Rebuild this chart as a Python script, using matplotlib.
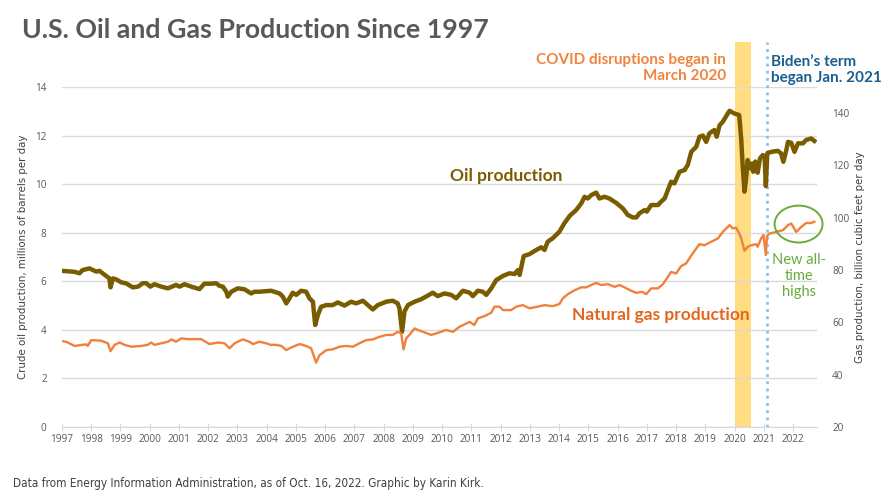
import os

import matplotlib
matplotlib.use('Agg')
import matplotlib.pyplot as plt
import matplotlib.font_manager as fm
from matplotlib.patches import Ellipse, Rectangle
import matplotlib.transforms as mtransforms

######################################################################
# Data (decimal year, value)
oil_year = [1997.0, 1997.43, 1997.6, 1997.7, 1997.94, 1998.17, 1998.28, 1998.51, 1998.62, 1998.66,
            1998.74, 1998.85, 1999.02, 1999.2, 1999.42, 1999.6, 1999.76, 1999.88, 2000.02, 2000.16,
            2000.39, 2000.62, 2000.9, 2001.02, 2001.19, 2001.42, 2001.7, 2001.87, 2002.1, 2002.27,
            2002.39, 2002.5, 2002.62, 2002.67, 2002.79, 2003.01, 2003.24, 2003.47, 2003.58, 2003.75,
            2004.15, 2004.44, 2004.55, 2004.67, 2004.78, 2004.89, 2005.01, 2005.18, 2005.35, 2005.46,
            2005.58, 2005.66, 2005.75, 2005.86, 2006.04, 2006.26, 2006.43, 2006.66, 2006.89, 2007.06,
            2007.29, 2007.46, 2007.63, 2007.8, 2008.09, 2008.31, 2008.48, 2008.54, 2008.63, 2008.71,
            2008.83, 2009.06, 2009.28, 2009.45, 2009.68, 2009.85, 2010.08, 2010.31, 2010.48, 2010.71,
            2010.94, 2011.05, 2011.22, 2011.39, 2011.51, 2011.68, 2011.85, 2012.08, 2012.3, 2012.48,
            2012.59, 2012.65, 2012.79, 2012.99, 2013.22, 2013.39, 2013.5, 2013.61, 2013.78, 2014.01,
            2014.18, 2014.36, 2014.58, 2014.76, 2014.87, 2014.98, 2015.1, 2015.27, 2015.38, 2015.55,
            2015.72, 2015.95, 2016.18, 2016.35, 2016.52, 2016.64, 2016.75, 2016.92, 2017.0, 2017.15,
            2017.38, 2017.49, 2017.61, 2017.72, 2017.83, 2017.94, 2018.12, 2018.29, 2018.4, 2018.52,
            2018.69, 2018.8, 2018.92, 2019.03, 2019.14, 2019.31, 2019.39, 2019.49, 2019.6, 2019.77,
            2019.83, 2019.99, 2020.1, 2020.16, 2020.23, 2020.28, 2020.34, 2020.39, 2020.45, 2020.53,
            2020.6, 2020.64, 2020.71, 2020.79, 2020.87, 2020.97, 2021.03, 2021.07, 2021.12, 2021.26,
            2021.48, 2021.59, 2021.67, 2021.77, 2021.83, 2021.94, 2022.05, 2022.17, 2022.34, 2022.45,
            2022.62, 2022.73]
oil_mbd = [6.43, 6.39, 6.33, 6.46, 6.53, 6.40, 6.43, 6.22, 6.12, 5.75,
           6.12, 6.08, 5.96, 5.91, 5.75, 5.78, 5.92, 5.92, 5.78, 5.88,
           5.78, 5.71, 5.85, 5.78, 5.88, 5.78, 5.68, 5.90, 5.90, 5.92,
           5.81, 5.78, 5.57, 5.37, 5.57, 5.71, 5.67, 5.50, 5.57, 5.57,
           5.61, 5.50, 5.37, 5.09, 5.30, 5.53, 5.44, 5.61, 5.57, 5.30,
           5.16, 4.20, 4.61, 4.95, 5.02, 5.02, 5.13, 5.00, 5.16, 5.09,
           5.20, 5.02, 4.84, 5.02, 5.16, 5.20, 5.09, 4.89, 3.92, 4.75,
           5.02, 5.16, 5.26, 5.37, 5.53, 5.39, 5.50, 5.44, 5.30, 5.61,
           5.53, 5.39, 5.61, 5.57, 5.44, 5.71, 6.05, 6.22, 6.33, 6.30,
           6.46, 6.26, 7.04, 7.12, 7.29, 7.40, 7.29, 7.63, 7.77, 8.04,
           8.39, 8.69, 8.93, 9.21, 9.48, 9.41, 9.55, 9.65, 9.41, 9.48,
           9.41, 9.23, 9.00, 8.73, 8.63, 8.63, 8.80, 8.93, 8.87, 9.14,
           9.14, 9.28, 9.41, 9.76, 10.10, 10.03, 10.51, 10.58, 10.79, 11.33,
           11.54, 11.95, 12.00, 11.74, 12.09, 12.23, 11.95, 12.43, 12.57, 12.91,
           13.02, 12.91, 12.87, 12.84, 11.82, 10.72, 9.69, 10.17, 10.99, 10.65,
           10.85, 10.51, 10.93, 10.47, 11.06, 11.20, 11.06, 9.92, 11.27, 11.33,
           11.37, 11.27, 10.92, 11.40, 11.74, 11.70, 11.33, 11.68, 11.68, 11.82,
           11.88, 11.78]

gas_year = [1997.0, 1997.14, 1997.43, 1997.83, 1997.88, 1998.0, 1998.34, 1998.57, 1998.66, 1998.8,
            1998.97, 1999.14, 1999.37, 1999.71, 1999.93, 2000.05, 2000.16, 2000.39, 2000.62, 2000.75,
            2000.9, 2001.08, 2001.3, 2001.53, 2001.76, 2002.04, 2002.33, 2002.56, 2002.73, 2002.9,
            2003.18, 2003.41, 2003.53, 2003.75, 2003.98, 2004.15, 2004.32, 2004.5, 2004.67, 2004.84,
            2005.12, 2005.35, 2005.52, 2005.69, 2005.81, 2006.04, 2006.26, 2006.49, 2006.72, 2006.95,
            2007.17, 2007.4, 2007.63, 2007.86, 2008.09, 2008.31, 2008.48, 2008.6, 2008.68, 2008.77,
            2008.88, 2009.06, 2009.17, 2009.34, 2009.63, 2009.8, 2010.14, 2010.37, 2010.59, 2010.94,
            2011.1, 2011.22, 2011.45, 2011.68, 2011.79, 2011.96, 2012.08, 2012.36, 2012.53, 2012.76,
            2012.99, 2013.27, 2013.5, 2013.78, 2014.01, 2014.13, 2014.3, 2014.53, 2014.76, 2014.93,
            2015.1, 2015.27, 2015.44, 2015.67, 2015.9, 2016.07, 2016.3, 2016.52, 2016.64, 2016.84,
            2016.98, 2017.15, 2017.38, 2017.55, 2017.72, 2017.83, 2018.0, 2018.17, 2018.34, 2018.57,
            2018.8, 2018.97, 2019.2, 2019.43, 2019.6, 2019.83, 2019.94, 2020.05, 2020.16, 2020.23,
            2020.34, 2020.45, 2020.57, 2020.74, 2020.79, 2020.91, 2020.99, 2021.07, 2021.11, 2021.2,
            2021.43, 2021.66, 2021.83, 2021.94, 2022.11, 2022.28, 2022.45, 2022.62, 2022.73]
gas_bcfd = [52.8, 52.6, 51.0, 51.6, 51.0, 53.2, 53.0, 52.0, 49.0, 51.4,
            52.3, 51.4, 50.7, 51.0, 51.4, 52.3, 51.4, 52.0, 52.6, 53.5,
            52.6, 53.9, 53.6, 53.6, 53.6, 51.7, 52.3, 52.0, 50.1, 52.0,
            53.5, 52.6, 51.7, 52.6, 52.0, 51.4, 51.4, 51.0, 49.4, 50.4,
            51.7, 51.0, 50.1, 44.6, 47.5, 49.4, 49.7, 50.7, 51.0, 50.7,
            52.0, 53.2, 53.5, 54.5, 55.2, 55.2, 56.4, 55.8, 49.7, 53.9,
            55.2, 57.7, 57.1, 56.4, 55.2, 55.8, 57.1, 56.4, 58.3, 60.2,
            59.0, 61.5, 62.4, 63.7, 66.0, 66.0, 64.7, 64.7, 66.0, 66.6,
            65.4, 66.0, 66.6, 66.2, 67.0, 69.2, 70.8, 72.3, 73.4, 73.4,
            74.3, 75.1, 74.3, 74.6, 73.6, 74.3, 73.0, 71.8, 71.3, 71.7,
            70.8, 73.0, 73.0, 74.6, 77.4, 79.3, 78.7, 81.5, 82.5, 86.4,
            89.9, 89.5, 90.8, 92.1, 94.6, 97.2, 95.9, 96.2, 94.0, 92.1,
            87.4, 88.9, 89.5, 89.9, 88.9, 92.1, 93.4, 85.7, 93.0, 94.0,
            94.6, 95.3, 97.2, 97.8, 94.6, 96.5, 98.0, 98.0, 98.5]

years = list(range(1997, 2023))
oil_ticks = [0, 2, 4, 6, 8, 10, 12, 14]
gas_ticks = [20, 40, 60, 80, 100, 120, 140]
covid_span = (2020.0, 2020.55)
biden_start = 2021.1

OIL_COLOR = '#7a5c00'
GAS_COLOR = '#f0803a'
GRID_COLOR = '#d9d9d9'
TICK_COLOR = '#595959'
################################################################################
# condensed font for axis titles and footer (look for an installed narrow face)
narrow_file = None
for pattern in ('LiberationSansNarrow-Regular', 'DejaVuSansCondensed.'):
    for f in fm.fontManager.ttflist:
        if pattern in os.path.basename(f.fname):
            narrow_file = f.fname
            break
    if narrow_file:
        break


def narrow(size):
    if narrow_file:
        return fm.FontProperties(fname=narrow_file, size=size)
    return fm.FontProperties(family='DejaVu Sans', stretch='condensed', size=size)


W, H = 889, 500
fig = plt.figure(figsize=(W / 100, H / 100), dpi=100)
fig.patch.set_facecolor('white')


def fx(x):
    return x / W


def fy(y):
    return 1 - y / H


ax = fig.add_axes([fx(62), fy(427), fx(817) - fx(62), fy(87) - fy(427)])
ax2 = ax.twinx()

ax.set_xlim(1997, 2022.82)
ax.set_ylim(0, 14)
ax2.set_ylim(20, 150)

# covid band + Biden line, reaching above the plot area
trans = mtransforms.blended_transform_factory(ax.transData, ax.transAxes)
top = (427 - 42) / 340.
ax.add_patch(Rectangle((covid_span[0], 0), covid_span[1] - covid_span[0], top,
                       transform=trans, facecolor='#ffdd80', edgecolor='none',
                       clip_on=False, zorder=0))
ax.plot([biden_start, biden_start], [0, top], transform=trans, color='#8cbfe6',
        linestyle=(0, (1, 1.6)), linewidth=2, clip_on=False, zorder=1)

ax.set_yticks(oil_ticks)
ax.yaxis.grid(True, color=GRID_COLOR, linewidth=1)
ax.set_axisbelow(True)
ax.set_xticks(years)
ax.set_xticklabels([str(y) for y in years])

ax.plot(oil_year, oil_mbd, color=OIL_COLOR, linewidth=3.2, solid_joinstyle='round', zorder=3)
ax2.plot(gas_year, gas_bcfd, color=GAS_COLOR, linewidth=1.7, solid_joinstyle='round', zorder=3)
ax2.set_yticks(gas_ticks)

for a in (ax, ax2):
    for s in a.spines.values():
        s.set_visible(False)
ax.spines['bottom'].set_visible(True)
ax.spines['bottom'].set_color(GRID_COLOR)
ax.tick_params(axis='x', direction='inout', length=6, color=GRID_COLOR,
               labelsize=7.2, labelcolor=TICK_COLOR, pad=2)
ax.tick_params(axis='y', length=0, labelsize=7.2, labelcolor=TICK_COLOR, pad=11)
ax2.tick_params(axis='y', length=0, labelsize=7.2, labelcolor=TICK_COLOR, pad=11)
for lab in ax.get_xticklabels() + ax.get_yticklabels() + ax2.get_yticklabels():
    lab.set_family('Open Sans')

ax.set_ylabel('Crude oil production, millions of barrels per day',
              fontproperties=narrow(8.2), color='#404040')
ax2.set_ylabel('Gas production, billion cubic feet per day',
               fontproperties=narrow(8.2), color='#404040')
ax.yaxis.set_label_coords((28 - 62) / 755., 0.5)
ax2.yaxis.set_label_coords((855 - 62) / 755., 0.5)

# annotations
ax.text(2012.2, 10.33, 'Oil production', color=OIL_COLOR, fontsize=12.5,
        family='Lato', weight='bold', ha='center', va='center')
ax.text(2017.47, 4.61, 'Natural gas production', color='#e2661f', fontsize=12.5,
        family='Lato', weight='bold', ha='center', va='center')
ax2.add_patch(Ellipse((2022.19, 97.6), 1.64, 14.1, facecolor='none',
                      edgecolor='#6aab3c', linewidth=1.4, clip_on=False, zorder=4))
ax2.text(2022.22, 77.7, 'New all-\ntime\nhighs', color='#6aab3c', fontsize=10.5,
         family='Lato', ha='center', va='center', linespacing=1.2)

fig.text(fx(726), fy(68), 'COVID disruptions began in\nMarch 2020', color='#f0843c',
         fontsize=11, family='Lato', weight='bold', ha='right', va='center',
         linespacing=1.2)
fig.text(fx(771), fy(70), 'Biden\u2019s term\nbegan Jan. 2021', color='#1a5e8f',
         fontsize=11, family='Lato', weight='bold', ha='left', va='center',
         linespacing=1.1)

fig.text(fx(22), fy(30), 'U.S. Oil and Gas Production Since 1997', color='#595959',
         fontsize=19.3, family='Lato', weight='bold', ha='left', va='center')
fig.text(fx(13), fy(483), 'Data from Energy Information Administration, as of Oct. 16, 2022. '
         'Graphic by Karin Kirk.', color='#404040', fontproperties=narrow(8.5),
         ha='left', va='center')

fig.savefig('out.png', dpi=100)
